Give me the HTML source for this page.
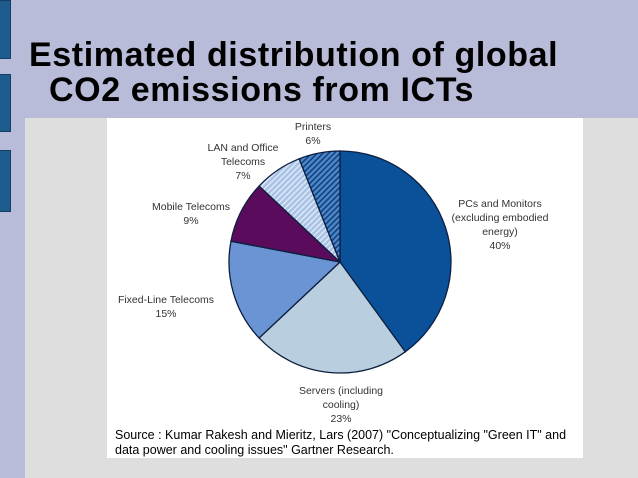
<!DOCTYPE html>
<html><head><meta charset="utf-8"><style>
body{margin:0;width:638px;height:478px;overflow:hidden;background:#b9bcd9;position:relative;font-family:"Liberation Sans",sans-serif}
.bar{position:absolute;left:0;width:10px;background:#1d5c8c;border:1px solid #123e63;border-left:none}
#grey{position:absolute;left:25px;top:118px;width:613px;height:360px;background:#dedede}
#white{position:absolute;left:107px;top:118px;width:476px;height:340px;background:#fff}
.t{position:absolute;margin:0;font-size:34px;font-weight:bold;color:#000;line-height:35px;white-space:pre;letter-spacing:0.6px}
.src{position:absolute;left:115px;top:428px;font-size:12.5px;line-height:15px;color:#000}
</style></head><body>
<div class="bar" style="top:0;height:57px"></div>
<div class="bar" style="top:74px;height:56px"></div>
<div class="bar" style="top:150px;height:60px"></div>
<div>
<div class="t" style="left:29px;top:38px">Estimated distribution of global</div>
<div class="t" style="left:49px;top:73px">CO2 emissions from ICTs</div>
</div>
<div id="grey"></div>
<div id="white"></div>
<svg id="chart" width="638" height="478" style="position:absolute;left:0;top:0">
<defs>
<pattern id="hatchLan" patternUnits="userSpaceOnUse" width="4" height="4" patternTransform="rotate(45)"><rect width="4" height="4" fill="#a9c3e6"/><rect width="1.3" height="4" fill="#e4edf8"/></pattern>
<pattern id="hatchPr" patternUnits="userSpaceOnUse" width="4" height="4" patternTransform="rotate(45)"><rect width="4" height="4" fill="#4a86c8"/><rect width="1.5" height="4" fill="#123e7a"/></pattern>
</defs>
</svg>
<div class="src">Source : Kumar Rakesh and Mieritz, Lars (2007) "Conceptualizing "Green IT" and<br>data power and cooling issues" Gartner Research.</div>
<script>
const categories=["PCs and Monitors","Servers","Fixed-Line Telecoms","Mobile Telecoms","LAN and Office Telecoms","Printers"];
const values=[40,23,15,9,7,6];
const labelLines=[["PCs and Monitors","(excluding embodied","energy)","40%"],["Servers (including","cooling)","23%"],["Fixed-Line Telecoms","15%"],["Mobile Telecoms","9%"],["LAN and Office","Telecoms","7%"],["Printers","6%"]];
const fills=["#0a519a","#b9cfe0","#6a94d4","#5a0b5c","url(#hatchLan)","url(#hatchPr)"];
const labelPos=[[500,203],[341,390],[166,299],[191,206],[243,147],[313,126]];
const svg=document.getElementById('chart');
const NS="http://www.w3.org/2000/svg";
const cx=340,cy=262,r=111;
const total=values.reduce((a,b)=>a+b,0);
let acc=0;
function pt(f){const a=f*2*Math.PI;return [cx+r*Math.sin(a),cy-r*Math.cos(a)];}
values.forEach((v,i)=>{
  const s=acc/total,e=(acc+v)/total;acc+=v;
  const [x1,y1]=pt(s),[x2,y2]=pt(e);
  const p=document.createElementNS(NS,'path');
  p.setAttribute('d',`M${cx},${cy}L${x1},${y1}A${r},${r} 0 ${e-s>0.5?1:0} 1 ${x2},${y2}Z`);
  p.setAttribute('fill',fills[i]);p.setAttribute('stroke','#0d1f3f');p.setAttribute('stroke-width','1.3');
  
  
  svg.appendChild(p);
  const t=document.createElementNS(NS,'text');
  t.setAttribute('text-anchor','middle');t.setAttribute('font-size','10.5');t.setAttribute('fill','#333');
  t.setAttribute('font-family','Liberation Sans, sans-serif');
  
  
  labelLines[i].forEach((ln,j)=>{const ts=document.createElementNS(NS,'tspan');ts.setAttribute('x',labelPos[i][0]);ts.setAttribute('y',labelPos[i][1]+4+j*14);ts.textContent=ln;t.appendChild(ts);});
  svg.appendChild(t);
});
</script>
</body></html>
